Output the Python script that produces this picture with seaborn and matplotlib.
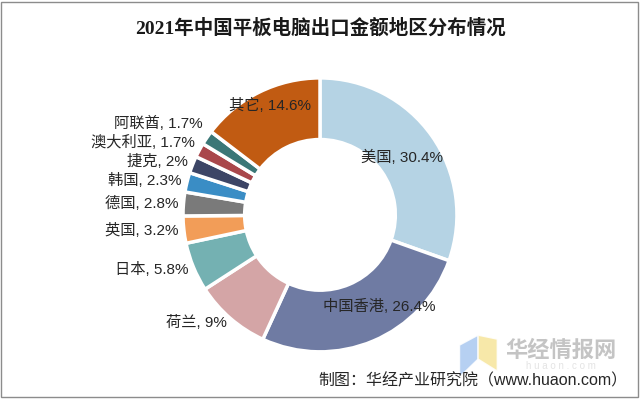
import numpy as np
import seaborn as sns
import matplotlib
matplotlib.use('Agg')
import matplotlib.pyplot as plt
from matplotlib.patches import Rectangle, Polygon

# data
regions = ['美国', '中国香港', '荷兰', '日本', '英国', '德国', '韩国', '捷克', '澳大利亚', '阿联酋', '其它']
shares = [30.4, 26.4, 9, 5.8, 3.2, 2.8, 2.3, 2, 1.7, 1.7, 14.6]
share_text = ['30.4%', '26.4%', '9%', '5.8%', '3.2%', '2.8%', '2.3%', '2%', '1.7%', '1.7%', '14.6%']
colors = ['#b5d3e4', '#6f7ba3', '#d4a5a6', '#74b1b2', '#f29d58', '#7a7a7a',
          '#3a8dc5', '#3c4566', '#a9474b', '#3b7777', '#c15b12']

sns.set_theme(style='white')
plt.rcParams['font.family'] = ['Liberation Sans', 'Noto Sans CJK SC', 'DejaVu Sans']

fig = plt.figure(figsize=(6.4, 3.99), dpi=100)
ax = fig.add_axes([0.286, 0.118, 0.428, 0.687])

labels = [f'{r}, {t}' for r, t in zip(regions, share_text)]
wedges, texts = ax.pie(shares, labels=labels, colors=colors, startangle=90,
                       counterclock=False, radius=1, labeldistance=1.04,
                       wedgeprops=dict(width=0.45, edgecolor='white', linewidth=2.5),
                       textprops=dict(fontsize=11, color='#262626'))
ax.set_xlim(-1, 1)
ax.set_ylim(-1, 1)
ax.set_aspect('equal')
ax.axis('off')

# the big slices keep their label inside the ring
inside = {'美国': (0.73, 0), '中国香港': (0.8, 10), '其它': (0.88, -2)}
prev_y = None
for w, t, r in zip(wedges, texts, regions):
    t.set_va('center')
    if r in inside:
        dist, shift = inside[r]
        ang = np.deg2rad((w.theta1 + w.theta2) / 2 + shift)
        t.set_position((dist * np.cos(ang), dist * np.sin(ang)))
        t.set_ha('center')
        continue
    # push the small left labels apart so they stack like the original
    x, y = t.get_position()
    if prev_y is not None and y < prev_y + 0.14:
        y = prev_y + 0.14
        t.set_position((x, y))
    prev_y = y

fig.text(0.5, 0.93, '2021年中国平板电脑出口金额地区分布情况', ha='center', va='center',
         fontsize=14, fontweight='bold', color='#1a1a1a',
         family=['Liberation Serif', 'Noto Sans CJK SC'])
fig.text(0.98, 0.045, '制图：华经产业研究院（www.huaon.com）', ha='right', va='center',
         fontsize=11.5, color='#262626')

# watermark
fig.patches.append(Polygon([[0.718, 0.055], [0.747, 0.1], [0.747, 0.16], [0.718, 0.135]],
                           closed=True, transform=fig.transFigure, facecolor='#a9c8f0', alpha=0.85))
fig.patches.append(Polygon([[0.747, 0.1], [0.777, 0.07], [0.777, 0.15], [0.747, 0.16]],
                           closed=True, transform=fig.transFigure, facecolor='#f6e49a', alpha=0.85))
fig.text(0.876, 0.12, '华经情报网', ha='center', va='center', fontsize=16,
         fontweight='bold', color='#c4c4c4')
fig.text(0.876, 0.082, 'h u a o n . c o m', ha='center', va='center', fontsize=7,
         color='#e4e4e4')

fig.patches.append(Rectangle((0.002, 0.004), 0.995, 0.99, transform=fig.transFigure,
                             fill=False, edgecolor='#8c8c8c', linewidth=1))

fig.savefig('out.png', dpi=100)
